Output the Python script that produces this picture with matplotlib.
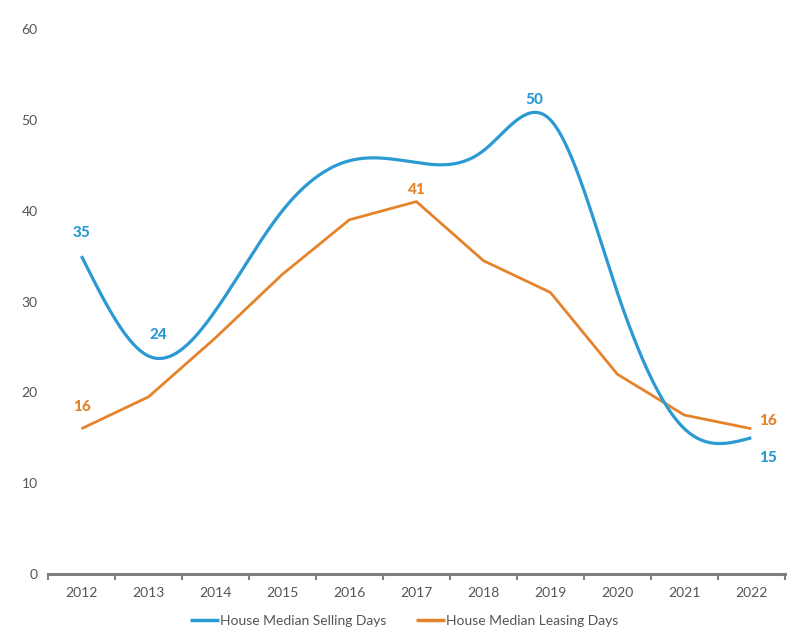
import numpy as np
import matplotlib
matplotlib.use("Agg")
import matplotlib.pyplot as plt

years = ["2012", "2013", "2014", "2015", "2016", "2017", "2018", "2019", "2020", "2021", "2022"]
selling_days = [35, 24, 29, 40, 45.5, 45.3, 46.6, 50, 31, 16, 15]
leasing_days = [16, 19.5, 26, 33, 39, 41, 34.5, 31, 22, 17.5, 16]
yticks = [0, 10, 20, 30, 40, 50, 60]

BLUE = "#2B9AD3"
ORANGE = "#E5832B"
GREY_TXT = "#555555"
AXIS_GREY = "#7F7F7F"

plt.rcParams['font.family'] = ['Lato', 'DejaVu Sans']


def natural_spline(x, y, n=40):
    x = np.asarray(x, float)
    y = np.asarray(y, float)
    k = len(x)
    h = np.diff(x)
    A = np.zeros((k, k))
    b = np.zeros(k)
    A[0, 0] = 1
    A[-1, -1] = 1
    for i in range(1, k - 1):
        A[i, i - 1] = h[i - 1]
        A[i, i] = 2 * (h[i - 1] + h[i])
        A[i, i + 1] = h[i]
        b[i] = 6 * ((y[i + 1] - y[i]) / h[i] - (y[i] - y[i - 1]) / h[i - 1])
    M = np.linalg.solve(A, b)
    xs, ys = [], []
    for i in range(k - 1):
        t = np.linspace(x[i], x[i + 1], n, endpoint=(i == k - 2))
        a = x[i + 1] - t
        c = t - x[i]
        s = (M[i] * a ** 3 / (6 * h[i]) + M[i + 1] * c ** 3 / (6 * h[i])
             + (y[i] / h[i] - M[i] * h[i] / 6) * a
             + (y[i + 1] / h[i] - M[i + 1] * h[i] / 6) * c)
        xs.append(t)
        ys.append(s)
    return np.concatenate(xs), np.concatenate(ys)


fig = plt.figure(figsize=(8, 6.39), dpi=100)
ax = fig.add_axes([0.06, 0.1017, 0.921, 0.8529])

xpos = np.arange(len(years))
sx, sy = natural_spline(xpos, selling_days)
ax.plot(sx, sy, color=BLUE, lw=2.3, solid_capstyle='butt', label="House Median Selling Days", zorder=3)
ax.plot(xpos, leasing_days, color=ORANGE, lw=2.0, solid_joinstyle='round', solid_capstyle='butt',
        label="House Median Leasing Days", zorder=2)

ax.set_xlim(-0.5, len(years) - 0.5)
ax.set_ylim(0, 60)
ax.set_xticks(xpos)
ax.set_xticklabels(years)
ax.set_xticks(np.arange(-0.5, len(years), 1), minor=True)
ax.set_yticks(yticks)
ax.tick_params(axis='x', which='major', length=0, pad=9, labelsize=10, labelcolor=GREY_TXT)
ax.tick_params(axis='x', which='minor', length=4, width=1.5, color=AXIS_GREY, direction='out')
ax.tick_params(axis='y', length=0, pad=7.5, labelsize=10, labelcolor=GREY_TXT)

for s in ['top', 'right', 'left']:
    ax.spines[s].set_visible(False)
ax.spines['bottom'].set_color(AXIS_GREY)
ax.spines['bottom'].set_linewidth(2.2)
ax.spines['bottom'].set_zorder(4)

# data labels
lab_kw = dict(textcoords='offset pixels', ha='center', va='center', fontsize=11, fontweight='black')
ax.annotate(str(selling_days[0]), (0, selling_days[0]), xytext=(0, 23), color=BLUE, **lab_kw)
ax.annotate(str(selling_days[1]), (1, selling_days[1]), xytext=(10, 21), color=BLUE, **lab_kw)
ax.annotate(str(selling_days[7]), (7, selling_days[7]), xytext=(-16, 20), color=BLUE, **lab_kw)
ax.annotate(str(selling_days[10]), (10, selling_days[10]), xytext=(17, -20), color=BLUE, **lab_kw)
ax.annotate(str(leasing_days[0]), (0, leasing_days[0]), xytext=(0, 22), color=ORANGE, **lab_kw)
ax.annotate(str(leasing_days[5]), (5, leasing_days[5]), xytext=(0, 12), color=ORANGE, **lab_kw)
ax.annotate(str(leasing_days[10]), (10, leasing_days[10]), xytext=(17, 8), color=ORANGE, **lab_kw)

handles, labels = ax.get_legend_handles_labels()
leg = fig.legend(handles, labels, loc='center', bbox_to_anchor=(0.505, 0.028), ncol=2, frameon=False,
                 fontsize=10, handlelength=2.1, handletextpad=0.1, columnspacing=2.1)
for t in leg.get_texts():
    t.set_color(GREY_TXT)
for l in leg.get_lines():
    l.set_linewidth(2.5)

fig.savefig("out.png", dpi=100)
